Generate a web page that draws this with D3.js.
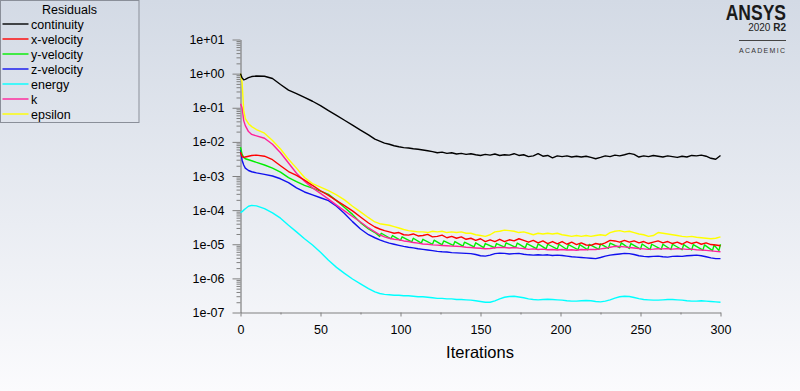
<!DOCTYPE html>
<html><head><meta charset="utf-8">
<script src="https://cdn.jsdelivr.net/npm/d3@7"></script>
<style>html,body{margin:0;padding:0;overflow:hidden;background:#fff}</style>
</head><body>
<svg id="chart" width="800" height="391"></svg>
<script>
// ---------- DATA ----------
const iterations = [0,1,2,3,5,7,10,15,20,25,30,35,40,45,50,55,60,65,70,75,80,
  84,87,90,93,96,99,102,105,108,111,
  114,117,120,123,126,129,132,135,138,141,
  144,147,150,153,156,159,162,165,168,171,
  174,177,180,183,186,189,192,195,198,201,
  204,207,210,213,216,219,222,225,228,231,
  234,237,240,243,246,249,252,255,258,261,
  264,267,270,273,276,279,282,285,288,291,
  294,297,300];

const continuity = [1.0,0.75,0.66,0.68,0.76,0.82,0.85,0.84,0.72,0.48,0.33,0.26,0.20,0.155,0.115,0.082,0.060,0.043,0.031,0.022,0.016,
  0.012,0.0105,0.0092,0.0085,0.0077,0.0072,0.0068,0.0066,0.0063,0.0061,
  0.0058,0.0055,0.0052,0.0048,0.0050,0.0046,0.0048,0.0044,0.0046,0.0043,
  0.0045,0.0042,0.0040,0.0043,0.0041,0.0044,0.0040,0.0042,0.0041,0.0045,
  0.0040,0.0042,0.0037,0.0039,0.0045,0.0038,0.0040,0.0034,0.0039,0.0037,
  0.0039,0.0036,0.0038,0.0036,0.0038,0.0035,0.0032,0.0035,0.0039,0.0037,
  0.0041,0.0039,0.0042,0.0046,0.0043,0.0036,0.0039,0.0037,0.0040,0.0038,
  0.0036,0.0039,0.0037,0.0035,0.0038,0.0036,0.0040,0.0039,0.0041,0.0038,
  0.0033,0.0031,0.0040];

const xVelocity = [5.0e-3,3.7e-3,3.5e-3,3.6e-3,3.8e-3,4.0e-3,4.1e-3,3.8e-3,3.0e-3,2.0e-3,1.35e-3,1.05e-3,7.6e-4,5.3e-4,3.7e-4,2.7e-4,1.9e-4,1.35e-4,9.5e-5,6.3e-5,4.2e-5,
  3.2e-5,2.8e-5,2.5e-5,2.3e-5,2.1e-5,2.2e-5,1.9e-5,1.85e-5,2.0e-5,1.75e-5,
  1.8e-5,1.95e-5,1.65e-5,1.7e-5,1.85e-5,1.55e-5,1.7e-5,1.5e-5,1.65e-5,1.4e-5,
  1.5e-5,1.3e-5,1.45e-5,1.2e-5,1.35e-5,1.2e-5,1.4e-5,1.2e-5,1.35e-5,1.25e-5,
  1.45e-5,1.3e-5,1.15e-5,1.3e-5,1.1e-5,1.25e-5,1.05e-5,1.2e-5,1.02e-5,1.2e-5,
  1.0e-5,1.15e-5,9.8e-6,1.1e-5,9.5e-6,9.3e-6,1.05e-5,9.8e-6,1.1e-5,1.3e-5,
  1.25e-5,1.15e-5,1.3e-5,1.15e-5,1.25e-5,1.1e-5,1.2e-5,1.05e-5,1.15e-5,1.25e-5,
  1.1e-5,1.2e-5,1.05e-5,1.15e-5,1.0e-5,1.2e-5,1.05e-5,1.15e-5,1.0e-5,1.1e-5,
  9.8e-6,9.5e-6,9.0e-6];

// y-velocity has a sawtooth (sharp rise, slow decay), so it keeps its own iteration list
const yVelocityIterations = [0,1,2,3,5,7,10,15,20,25,30,35,40,45,50,55,60,65,70,75,80,
  84,87,88,94,95,100,101,107,108,113,114,120,121,126,127,133,134,139,140,
  146,147,152,153,159,160,165,166,172,173,178,179,185,186,191,192,198,199,
  204,205,211,212,217,218,224,225,230,231,237,238,243,244,250,251,256,257,
  263,264,269,270,276,277,282,283,289,290,295,296,299,300];
const yVelocity = [7.0e-3,4.3e-3,3.5e-3,3.2e-3,3.0e-3,2.8e-3,2.5e-3,2.1e-3,1.7e-3,1.3e-3,9.0e-4,6.8e-4,5.3e-4,4.4e-4,3.6e-4,2.9e-4,1.9e-4,1.2e-4,7.5e-5,4.3e-5,2.8e-5,
  2.2e-5,1.7e-5,2.1e-5,1.45e-5,1.8e-5,1.3e-5,1.65e-5,1.17e-5,1.5e-5,1.08e-5,1.4e-5,1.0e-5,1.32e-5,9.6e-6,1.25e-5,9.2e-6,1.2e-5,8.8e-6,1.15e-5,
  8.4e-6,1.1e-5,8.0e-6,1.05e-5,7.9e-6,1.05e-5,8.2e-6,1.1e-5,8.1e-6,1.08e-5,7.8e-6,1.05e-5,7.5e-6,1.02e-5,7.3e-6,1.0e-5,7.2e-6,1.0e-5,
  7.0e-6,9.8e-6,6.9e-6,9.8e-6,6.9e-6,9.9e-6,7.1e-6,1.02e-5,7.6e-6,1.08e-5,7.9e-6,1.1e-5,7.5e-6,1.05e-5,7.2e-6,1.02e-5,7.0e-6,1.0e-5,
  7.1e-6,1.0e-5,7.0e-6,1.0e-5,6.9e-6,9.8e-6,6.8e-6,9.8e-6,6.7e-6,9.6e-6,6.5e-6,9.5e-6,6.5e-6,1.0e-5];

const zVelocity = [5.8e-3,2.9e-3,2.1e-3,1.7e-3,1.45e-3,1.33e-3,1.23e-3,1.12e-3,1.0e-3,8.3e-4,6.4e-4,4.5e-4,3.4e-4,2.8e-4,2.3e-4,1.9e-4,1.3e-4,8.0e-5,4.6e-5,2.8e-5,1.9e-5,
  1.55e-5,1.35e-5,1.2e-5,1.08e-5,1.0e-5,9.3e-6,8.7e-6,8.2e-6,7.8e-6,7.4e-6,
  7.1e-6,6.8e-6,6.5e-6,6.2e-6,6.0e-6,5.9e-6,5.7e-6,5.6e-6,5.5e-6,5.4e-6,
  5.3e-6,5.0e-6,4.6e-6,4.5e-6,4.8e-6,5.3e-6,5.5e-6,5.4e-6,5.2e-6,5.3e-6,
  5.4e-6,5.1e-6,4.9e-6,4.8e-6,4.9e-6,4.8e-6,4.9e-6,4.7e-6,4.8e-6,4.7e-6,
  4.5e-6,4.3e-6,4.2e-6,4.1e-6,4.0e-6,3.9e-6,3.8e-6,4.1e-6,4.5e-6,4.8e-6,
  5.0e-6,5.2e-6,5.4e-6,5.3e-6,5.0e-6,4.6e-6,4.4e-6,4.3e-6,4.4e-6,4.5e-6,
  4.3e-6,4.2e-6,4.4e-6,4.5e-6,4.4e-6,4.6e-6,4.7e-6,4.8e-6,4.6e-6,4.3e-6,
  4.0e-6,3.8e-6,3.8e-6];

const energy = [8.5e-5,9.0e-5,1.0e-4,1.1e-4,1.3e-4,1.38e-4,1.33e-4,1.1e-4,8.3e-5,5.8e-5,3.6e-5,2.3e-5,1.45e-5,9.5e-6,5.8e-6,3.4e-6,2.1e-6,1.4e-6,9.6e-7,6.9e-7,5.0e-7,
  4.0e-7,3.6e-7,3.4e-7,3.3e-7,3.2e-7,3.2e-7,3.1e-7,3.1e-7,3.0e-7,2.9e-7,
  2.9e-7,2.8e-7,2.7e-7,2.6e-7,2.6e-7,2.5e-7,2.5e-7,2.4e-7,2.4e-7,2.35e-7,
  2.3e-7,2.2e-7,2.1e-7,2.0e-7,2.0e-7,2.2e-7,2.5e-7,2.8e-7,2.95e-7,3.0e-7,
  2.85e-7,2.7e-7,2.5e-7,2.4e-7,2.35e-7,2.4e-7,2.45e-7,2.4e-7,2.35e-7,2.3e-7,
  2.2e-7,2.15e-7,2.15e-7,2.2e-7,2.25e-7,2.2e-7,2.1e-7,2.05e-7,2.15e-7,2.35e-7,
  2.65e-7,2.9e-7,3.0e-7,2.95e-7,2.75e-7,2.55e-7,2.4e-7,2.35e-7,2.3e-7,2.3e-7,
  2.35e-7,2.4e-7,2.4e-7,2.35e-7,2.3e-7,2.2e-7,2.15e-7,2.15e-7,2.2e-7,2.15e-7,
  2.1e-7,2.05e-7,2.0e-7];

const kTurb = [0.13,0.10,0.042,0.030,0.020,0.0165,0.0150,0.0128,0.0085,0.0048,0.0024,1.2e-3,7.0e-4,4.5e-4,3.1e-4,2.1e-4,1.4e-4,9.5e-5,6.5e-5,4.5e-5,3.0e-5,
  2.3e-5,1.9e-5,1.65e-5,1.5e-5,1.4e-5,1.35e-5,1.25e-5,1.2e-5,1.12e-5,1.08e-5,
  1.02e-5,1.0e-5,9.6e-6,9.4e-6,9.2e-6,9.0e-6,8.8e-6,8.7e-6,8.5e-6,8.2e-6,
  8.0e-6,7.8e-6,7.6e-6,7.4e-6,7.5e-6,7.9e-6,8.1e-6,8.0e-6,7.8e-6,8.0e-6,
  7.7e-6,7.5e-6,7.1e-6,7.3e-6,7.0e-6,7.2e-6,6.9e-6,7.0e-6,6.8e-6,7.0e-6,
  6.8e-6,6.9e-6,6.7e-6,7.0e-6,6.9e-6,7.1e-6,7.0e-6,7.3e-6,7.6e-6,8.2e-6,
  8.7e-6,8.6e-6,8.4e-6,8.0e-6,7.8e-6,7.5e-6,7.3e-6,7.1e-6,7.2e-6,7.4e-6,
  7.3e-6,7.5e-6,7.2e-6,7.4e-6,7.3e-6,7.1e-6,7.2e-6,6.9e-6,6.8e-6,6.6e-6,
  6.4e-6,6.2e-6,6.0e-6];

const epsilon = [1.0,0.55,0.085,0.048,0.034,0.028,0.023,0.018,0.011,0.0062,0.0031,0.0017,9.0e-4,6.0e-4,4.7e-4,3.7e-4,2.8e-4,2.0e-4,1.3e-4,8.9e-5,6.0e-5,
  4.5e-5,4.0e-5,3.8e-5,3.6e-5,3.3e-5,3.0e-5,2.7e-5,2.5e-5,2.4e-5,2.3e-5,
  2.3e-5,2.2e-5,2.4e-5,2.3e-5,2.4e-5,2.2e-5,2.3e-5,2.2e-5,2.3e-5,2.1e-5,
  2.1e-5,1.9e-5,1.8e-5,1.7e-5,1.9e-5,2.3e-5,2.4e-5,2.6e-5,2.5e-5,2.4e-5,
  2.2e-5,2.3e-5,2.1e-5,1.9e-5,2.1e-5,2.0e-5,2.1e-5,2.0e-5,2.1e-5,1.9e-5,
  1.8e-5,1.7e-5,1.8e-5,1.7e-5,1.8e-5,1.7e-5,1.8e-5,1.9e-5,1.8e-5,2.2e-5,
  2.4e-5,2.5e-5,2.3e-5,2.4e-5,2.2e-5,2.0e-5,1.9e-5,1.7e-5,1.8e-5,2.2e-5,
  2.1e-5,2.0e-5,1.9e-5,1.8e-5,1.7e-5,1.65e-5,1.7e-5,1.6e-5,1.55e-5,1.5e-5,
  1.45e-5,1.5e-5,1.65e-5];

const seriesNames = ["continuity","x-velocity","y-velocity","z-velocity","energy","k","epsilon"];
const seriesValues = [continuity, xVelocity, yVelocity, zVelocity, energy, kTurb, epsilon];
const seriesIterations = [iterations, iterations, yVelocityIterations, iterations, iterations, iterations, iterations];
const yTickValues = [1e1,1e0,1e-1,1e-2,1e-3,1e-4,1e-5,1e-6,1e-7];
const yTickLabels = ["1e+01","1e+00","1e-01","1e-02","1e-03","1e-04","1e-05","1e-06","1e-07"];
const xTickValues = [0,50,100,150,200,250,300];
const xMinorTicks = [25,75,125,175,225,275];
const xTitle = "Iterations";
const legendTitle = "Residuals";

// ---------- STYLE ----------
const colors = ["#000000","#ff0000","#00ee00","#1010ee","#00ffff","#ff2299","#ffff00"];
const FONT = "'Liberation Sans', Arial, sans-serif";

const svg = d3.select("#chart");
const defs = svg.append("defs");
const grad = defs.append("linearGradient").attr("id","bg").attr("x1",0).attr("y1",0).attr("x2",0).attr("y2",1);
grad.append("stop").attr("offset","0%").attr("stop-color","#d3dae5");
grad.append("stop").attr("offset","100%").attr("stop-color","#fbfbfd");
svg.append("rect").attr("width",800).attr("height",391).attr("fill","url(#bg)");

const x = d3.scaleLinear().domain([0,300]).range([240.5,720.5]);
const y = d3.scaleLog().domain([1e-7,1e1]).range([312.5,39.5]);

const axisColor = "#808080";

// minor y ticks (2..9 in each decade)
const yMinor = [];
for (let e=-7; e<1; e++) for (let k=2;k<=9;k++) yMinor.push(k*Math.pow(10,e));

const gyMinor = svg.append("g").attr("transform","translate(240.5,0)")
  .call(d3.axisLeft(y).tickValues(yMinor).tickSize(4).tickFormat(""));
const gy = svg.append("g").attr("transform","translate(240.5,0)")
  .call(d3.axisLeft(y).tickValues(yTickValues).tickSize(8).tickSizeOuter(0).tickPadding(8)
    .tickFormat((d,i)=>yTickLabels[i]));

const gxMinor = svg.append("g").attr("transform","translate(0,312.5)")
  .call(d3.axisBottom(x).tickValues(xMinorTicks).tickSize(2).tickFormat(""));
const gx = svg.append("g").attr("transform","translate(0,312.5)")
  .call(d3.axisBottom(x).tickValues(xTickValues).tickSize(4).tickSizeOuter(0).tickPadding(9));

[gyMinor,gy,gxMinor,gx].forEach(g=>{
  g.selectAll("path.domain").attr("stroke",axisColor).attr("stroke-width",1.2);
  g.selectAll(".tick line").attr("stroke",axisColor).attr("stroke-width",1);
  g.selectAll("text").attr("fill","#000").attr("font-family",FONT).attr("font-size","12.5px");
});
gyMinor.select("path.domain").remove();
gxMinor.select("path.domain").remove();

svg.append("text").attr("x",480).attr("y",358).attr("text-anchor","middle")
  .attr("font-family",FONT).attr("font-size","16.5px").attr("fill","#000").text(xTitle);

// curves
const line = d3.line().x(d=>x(d[0])).y(d=>y(d[1]));
const order = [4,3,2,5,1,6,0];
order.forEach(i=>{
  const its = seriesIterations[i];
  const pts = its.map((it,j)=>[it, seriesValues[i][j]]).filter(d=>d[1]!=null);
  svg.append("path").attr("d",line(pts)).attr("fill","none")
    .attr("stroke",colors[i]).attr("stroke-width",1.4).attr("stroke-linejoin","round");
});

// legend
const lg = svg.append("g");
lg.append("rect").attr("x",0.5).attr("y",0.5).attr("width",138.5).attr("height",122)
  .attr("fill","none").attr("stroke","#8a8f99").attr("stroke-width",1);
lg.append("text").attr("x",69.5).attr("y",13.5).attr("text-anchor","middle")
  .attr("font-family",FONT).attr("font-size","12.5px").attr("fill","#000").text(legendTitle);
seriesNames.forEach((n,i)=>{
  const yy = 24 + i*15;
  lg.append("line").attr("x1",2.5).attr("x2",28.5).attr("y1",yy).attr("y2",yy)
    .attr("stroke",colors[i]).attr("stroke-width",1.4);
  lg.append("text").attr("x",31).attr("y",yy+4.5).attr("font-family",FONT)
    .attr("font-size","12.5px").attr("fill","#000").text(n);
});

// ANSYS logo
const logo = svg.append("g");
logo.append("text").attr("transform","translate(786,19.5) scale(1,1.25)").attr("text-anchor","end")
  .attr("font-family","'Liberation Sans Narrow','Liberation Sans',Arial")
  .attr("font-weight","bold").attr("font-size","17.5px").attr("fill","#1a1a1a").text("ANSYS");
const t2 = logo.append("text").attr("x",786).attr("y",30.5).attr("text-anchor","end")
  .attr("font-family",FONT).attr("font-size","10px").attr("fill","#222");
t2.append("tspan").text("2020 ");
t2.append("tspan").attr("font-weight","bold").text("R2");
logo.append("line").attr("x1",739).attr("x2",786).attr("y1",40.5).attr("y2",40.5)
  .attr("stroke","#444").attr("stroke-width",1);
logo.append("text").attr("x",739).attr("y",52.7).attr("font-family",FONT)
  .attr("font-size","7px").attr("fill","#333").attr("textLength",46)
  .attr("lengthAdjust","spacing").text("ACADEMIC");
</script>
</body></html>
